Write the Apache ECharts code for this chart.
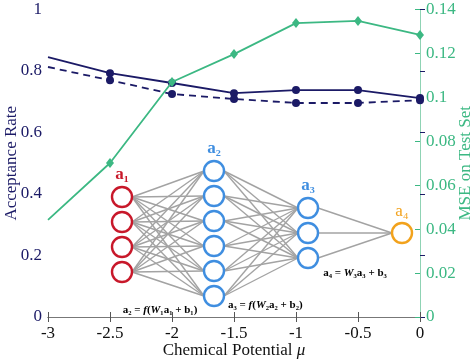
<!DOCTYPE html>
<html><head><meta charset="utf-8">
<script src="https://cdn.jsdelivr.net/npm/echarts@6/dist/echarts.min.js"></script>
<style>html,body{margin:0;padding:0;background:#fff}#c{width:474px;height:362px}</style>
</head><body><div id="c"></div>
<script>
// ---- data ----
var potentials = [-3, -2.5, -2, -1.5, -1, -0.5, 0];
var acceptSolid = [0.845, 0.793, 0.761, 0.728, 0.738, 0.738, 0.712];
var acceptDashed = [0.813, 0.770, 0.725, 0.709, 0.696, 0.696, 0.705];
var mseTest = [0.0442, 0.0701, 0.107, 0.1197, 0.1338, 0.1348, 0.1284];
var layerSizes = [4, 6, 3, 1];

// ---- styles ----
var NAVY = '#1b1a66', GREEN = '#3cb883', RED = '#c8182a', BLUE = '#3f8ee0', ORANGE = '#f2a21c';
var SERIF = '"Liberation Serif","DejaVu Serif",serif';

function pts(vals) {
  return potentials.map(function (x, i) {
    var d = { value: [x, vals[i]] };
    if (i === 0) d.symbol = 'none';
    return d;
  });
}

var chart = echarts.init(document.getElementById('c'), null, { renderer: 'canvas' });

// network layout (decoration)
var net = {
  xs: [122, 214, 308, 402],
  ys0: [197, 171, 208, 233],
  gap: 25,
  r: 10,
  colors: [RED, BLUE, BLUE, ORANGE]
};
var graphics = [];
var centers = layerSizes.map(function (n, L) {
  var arr = [];
  for (var k = 0; k < n; k++) arr.push([net.xs[L], net.ys0[L] + k * net.gap]);
  return arr;
});
for (var L = 0; L < centers.length - 1; L++) {
  centers[L].forEach(function (a) {
    centers[L + 1].forEach(function (b) {
      graphics.push({ type: 'line', z: 50, silent: true,
        shape: { x1: a[0] + net.r, y1: a[1], x2: b[0] - net.r, y2: b[1] },
        style: { stroke: '#a3a3a3', lineWidth: 1.4 } });
    });
  });
}
centers.forEach(function (arr, L) {
  arr.forEach(function (c) {
    graphics.push({ type: 'circle', z: 51, silent: true,
      shape: { cx: c[0], cy: c[1], r: net.r },
      style: { fill: '#fff', stroke: net.colors[L], lineWidth: 2.4 } });
  });
});
var subs = ['\u2081', '\u2082', '\u2083', '\u2084'];
var labelY = [175, 149, 186, 212];
for (var i = 0; i < 4; i++) {
  graphics.push({ type: 'text', z: 52, silent: true, x: net.xs[i], y: labelY[i],
    style: { text: 'a' + subs[i], fill: net.colors[i], font: (i === 3 ? '' : 'bold ') + '17px ' + SERIF,
      align: 'center', verticalAlign: 'middle' } });
}
var rich = {
  b: { fontFamily: SERIF, fontWeight: 'bold', fontSize: 11, fill: '#000' },
  i: { fontFamily: SERIF, fontStyle: 'italic', fontWeight: 'bold', fontSize: 11, fill: '#000' },
  n: { fontFamily: SERIF, fontWeight: 'bold', fontSize: 11, fill: '#000' }
};
function formula(x, y, txt, align) {
  graphics.push({ type: 'text', z: 52, silent: true, x: x, y: y,
    style: { text: txt, rich: rich, align: align, verticalAlign: 'middle', fill: '#000', font: 'bold 11px ' + SERIF } });
}
formula(160, 310, '{b|a\u2082}{n| = }{i|f}{n|(}{i|W}{n|\u2081}{b|a\u2081}{n| + }{b|b\u2081}{n|)}', 'center');
formula(228, 305, '{b|a\u2083}{n| = }{i|f}{n|(}{i|W}{n|\u2082}{b|a\u2082}{n| + }{b|b\u2082}{n|)}', 'left');
formula(355, 273, '{b|a\u2084}{n| = }{i|W}{n|\u2083}{b|a\u2083}{n| + }{b|b\u2083}', 'center');

var option = {
  animation: false,
  backgroundColor: '#fff',
  grid: { left: 48, right: 54, top: 9.5, bottom: 45, outerBoundsMode: 'none', containLabel: false },
  xAxis: [{
    type: 'value', min: -3, max: 0, interval: 0.5,
    name: 'Chemical Potential {i|μ}', nameLocation: 'middle', nameGap: 25, nameMoveOverlap: false,
    nameTextStyle: { fontFamily: SERIF, fontSize: 17, color: '#111',
      rich: { i: { fontFamily: SERIF, fontStyle: 'italic', fontSize: 17, color: '#111' } } },
    axisLine: { show: true, lineStyle: { color: '#555', width: 1 } },
    axisTick: { inside: true, length: 5, lineStyle: { color: '#555' } },
    axisLabel: { fontFamily: SERIF, fontSize: 17, color: '#111', margin: 8 },
    splitLine: { show: false }
  }, {
    type: 'value', position: 'top', min: -3, max: 0, interval: 0.5,
    axisLine: { show: true, lineStyle: { color: '#777', width: 1 } },
    axisTick: { inside: true, length: 5, lineStyle: { color: '#555' } },
    axisLabel: { show: false }, splitLine: { show: false }
  }],
  yAxis: [{
    type: 'value', min: 0, max: 1, interval: 0.2, position: 'left',
    name: 'Acceptance Rate', nameLocation: 'middle', nameGap: 28, nameMoveOverlap: false,
    nameTextStyle: { fontFamily: SERIF, fontSize: 17, color: NAVY },
    axisLine: { show: true, lineStyle: { color: '#6d6ca3', width: 1 } },
    axisTick: { inside: true, length: 5, lineStyle: { color: NAVY } },
    axisLabel: { fontFamily: SERIF, fontSize: 17, color: NAVY, margin: 6 },
    splitLine: { show: false }
  }, {
    type: 'value', min: 0, max: 0.14, interval: 0.02, position: 'right',
    name: 'MSE on Test Set', nameLocation: 'middle', nameGap: 37, nameRotate: 90, nameMoveOverlap: false,
    nameTextStyle: { fontFamily: SERIF, fontSize: 17, color: GREEN },
    axisLine: { show: true, lineStyle: { color: '#8fd3b4', width: 1 } },
    axisTick: { inside: true, length: 5, lineStyle: { color: GREEN } },
    axisLabel: { fontFamily: SERIF, fontSize: 17, color: GREEN, margin: 6 },
    splitLine: { show: false }
  }],
  series: [{
    type: 'line', yAxisIndex: 0, data: pts(acceptSolid), z: 3,
    symbol: 'circle', symbolSize: 8,
    lineStyle: { color: NAVY, width: 1.8 }, itemStyle: { color: NAVY }
  }, {
    type: 'line', yAxisIndex: 0, data: pts(acceptDashed), z: 3,
    symbol: 'circle', symbolSize: 8,
    lineStyle: { color: NAVY, width: 1.8, type: [7, 5] }, itemStyle: { color: NAVY }
  }, {
    type: 'line', yAxisIndex: 1, data: pts(mseTest), z: 4,
    symbol: 'diamond', symbolSize: [8, 10],
    lineStyle: { color: GREEN, width: 1.8 }, itemStyle: { color: GREEN }
  }],
  graphic: graphics
};
chart.setOption(option);
</script></body></html>
